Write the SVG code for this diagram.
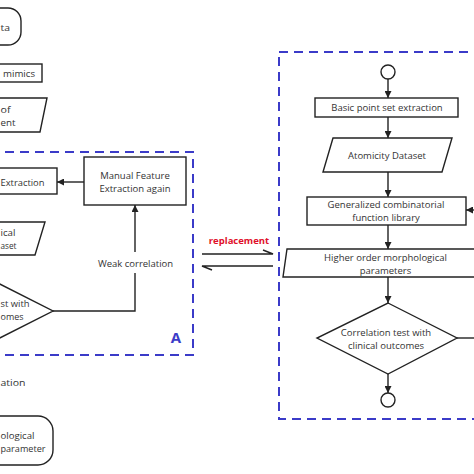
<svg xmlns="http://www.w3.org/2000/svg" width="474" height="474" viewBox="0 0 474 474">
<defs>
<style>
.n{fill:#fff;stroke:#222;stroke-width:1.4}
.t{font-family:"Open Sans","Noto Sans",sans-serif;font-size:9.5px;fill:#333}
.c{text-anchor:middle}
.l{fill:none;stroke:#222;stroke-width:1.4}
.d{fill:none;stroke:#3b3bc8;stroke-width:2;stroke-dasharray:9 6}
</style>
<marker id="ah" viewBox="0 0 10 10" refX="10" refY="5" markerWidth="7" markerHeight="7" markerUnits="userSpaceOnUse" orient="auto">
<path d="M0,0 L10,5 L0,10 z" fill="#222"/>
</marker>
</defs>
<rect width="474" height="474" fill="#fff"/>

<g id="frames">
<path class="d" d="M-10,152 H193 V355 H-10"/>
<rect class="d" x="279" y="52" width="210" height="367"/>
<text x="176" y="343" font-family="Open Sans,Noto Sans,sans-serif" font-size="15" font-weight="bold" fill="#3b3bc8" text-anchor="middle">A</text>
</g>

<g id="connectors">
<line class="l" x1="84" y1="182" x2="57" y2="182" marker-end="url(#ah)"/>
<polyline class="l" points="53,311 135,311 135,273"/>
<line class="l" x1="135" y1="252" x2="135" y2="205" marker-end="url(#ah)"/>
<line class="l" x1="388" y1="79" x2="388" y2="98" marker-end="url(#ah)"/>
<line class="l" x1="388" y1="117" x2="388" y2="138" marker-end="url(#ah)"/>
<line class="l" x1="388" y1="172" x2="388" y2="197" marker-end="url(#ah)"/>
<line class="l" x1="388" y1="225" x2="388" y2="249" marker-end="url(#ah)"/>
<line class="l" x1="388" y1="277" x2="388" y2="303" marker-end="url(#ah)"/>
<line class="l" x1="388" y1="374" x2="388" y2="393" marker-end="url(#ah)"/>
<line class="l" x1="480" y1="210" x2="466" y2="210" marker-end="url(#ah)"/>
<line class="l" x1="457" y1="338" x2="480" y2="338"/>
<path class="l" d="M202,254 H273 L263,250"/>
<path class="l" d="M273,266 H202 L212,270"/>
<text x="239" y="244" font-family="Open Sans,Noto Sans,sans-serif" font-size="9.5" font-weight="bold" fill="#e0102a" text-anchor="middle">replacement</text>
<text class="t c" x="135.5" y="266.5">Weak correlation</text>
</g>

<g id="n-data">
<rect class="n" x="-30" y="8" width="51" height="37" rx="13"/>
<text class="t" x="0.5" y="30.5" textLength="9.5" lengthAdjust="spacingAndGlyphs">ta</text>
</g>
<g id="n-mimics">
<rect class="n" x="-10" y="64" width="52" height="18"/>
<text class="t" x="3" y="76.5" textLength="32" lengthAdjust="spacingAndGlyphs">mimics</text>
</g>
<g id="n-of">
<polygon class="n" points="-10,98 47,98 40,132 -10,132"/>
<text class="t" x="0.5" y="113" textLength="10" lengthAdjust="spacingAndGlyphs">of</text>
<text class="t" x="0.5" y="126" textLength="15" lengthAdjust="spacingAndGlyphs">ent</text>
</g>
<g id="n-extraction">
<rect class="n" x="-10" y="168" width="67" height="26"/>
<text class="t" x="0.5" y="185.5" textLength="44" lengthAdjust="spacingAndGlyphs">Extraction</text>
</g>
<g id="n-manual">
<rect class="n" x="84" y="157" width="102" height="48"/>
<text class="t c" x="135" y="179">Manual Feature</text>
<text class="t c" x="135" y="192">Extraction again</text>
</g>
<g id="n-clinical">
<polygon class="n" points="-10,222 45,222 35,255 -10,255"/>
<text class="t" x="0.5" y="236" textLength="15" lengthAdjust="spacingAndGlyphs">ical</text>
<text class="t" x="0.5" y="249" textLength="16" lengthAdjust="spacingAndGlyphs">aset</text>
</g>
<g id="n-corr-left">
<polygon class="n" points="-16,276 53,311 -16,346 -85,311"/>
<text class="t" x="0.5" y="307" textLength="29" lengthAdjust="spacingAndGlyphs">st with</text>
<text class="t" x="0.5" y="320" textLength="23" lengthAdjust="spacingAndGlyphs">omes</text>
</g>
<text class="t" x="0.5" y="385.5" textLength="25" lengthAdjust="spacingAndGlyphs">ation</text>
<g id="n-morph-left">
<rect class="n" x="-40" y="416" width="93" height="49" rx="15"/>
<text class="t" x="0.5" y="438.5" textLength="34" lengthAdjust="spacingAndGlyphs">ological</text>
<text class="t" x="0.5" y="451.5" textLength="45" lengthAdjust="spacingAndGlyphs">parameter</text>
</g>

<g id="n-start">
<circle class="n" cx="388" cy="72" r="7"/>
</g>
<g id="n-basic">
<rect class="n" x="315" y="98" width="143" height="19"/>
<text class="t c" x="387" y="111">Basic point set extraction</text>
</g>
<g id="n-atomicity">
<polygon class="n" points="333,138 452,138 442,172 323,172"/>
<text class="t c" x="387" y="159">Atomicity Dataset</text>
</g>
<g id="n-generalized">
<rect class="n" x="307" y="197" width="159" height="28"/>
<text class="t c" x="386" y="208">Generalized combinatorial</text>
<text class="t c" x="386" y="221">function library</text>
</g>
<g id="n-higher">
<polygon class="n" points="287,249 492,249 488,277 283,277"/>
<text class="t c" x="385.5" y="261">Higher order morphological</text>
<text class="t c" x="385.5" y="274">parameters</text>
</g>
<g id="n-corr-right">
<polygon class="n" points="388,303 457,338 388,374 317,338"/>
<text class="t c" x="386" y="336">Correlation test with</text>
<text class="t c" x="386" y="349">clinical outcomes</text>
</g>
<g id="n-end">
<circle class="n" cx="388" cy="400" r="7"/>
</g>
</svg>
